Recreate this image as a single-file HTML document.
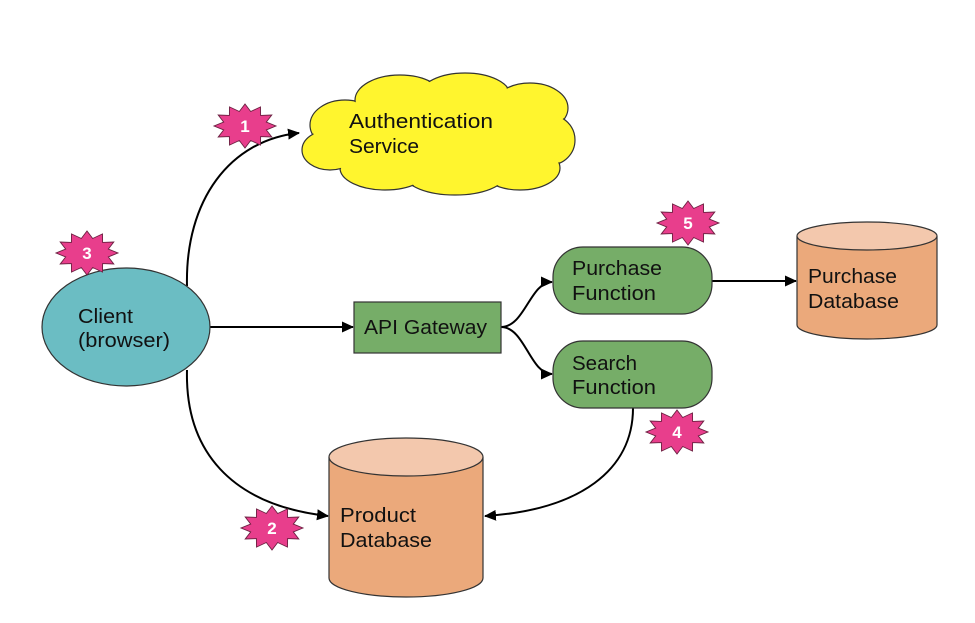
<!DOCTYPE html>
<html><head><meta charset="utf-8"><style>
html,body{margin:0;padding:0;background:#fff;}
svg{display:block;}
text{font-family:"Liberation Sans",sans-serif;}
</style></head><body>
<svg width="975" height="623" viewBox="0 0 975 623" xmlns="http://www.w3.org/2000/svg">
<defs>
<marker id="ar" markerWidth="12" markerHeight="12" refX="11" refY="6" orient="auto" markerUnits="userSpaceOnUse">
<path d="M0,0.5 L12,6 L0,11.5 z" fill="#000"/></marker>
<polygon id="star" points="31,0 21.3,3.9 26.8,11 15.6,10.6 15.5,19.1 5.7,14.5 0,22 -5.7,14.5 -15.5,19.1 -15.6,10.6 -26.8,11 -21.3,3.9 -31,0 -21.3,-3.9 -26.8,-11 -15.6,-10.6 -15.5,-19.1 -5.7,-14.5 0,-22 5.7,-14.5 15.5,-19.1 15.6,-10.6 26.8,-11 21.3,-3.9" fill="#e83e8c" stroke="#6a2040" stroke-width="0.9"/>
</defs>

<g fill="none" stroke="#000" stroke-width="2">
<path d="M187,286 C185,200 230,140 299,133" marker-end="url(#ar)"/>
<path d="M210,327 L353,327" marker-end="url(#ar)"/>
<path d="M187,370 C185,450 230,505 328,516" marker-end="url(#ar)"/>
<path d="M501,327 C525,327 530,282 552,282" marker-end="url(#ar)"/>
<path d="M501,327 C525,327 530,374 552,374" marker-end="url(#ar)"/>
<path d="M712,281 L796,281" marker-end="url(#ar)"/>
<path d="M633,408 C633,470 580,510 485,516" marker-end="url(#ar)"/>
</g>

<g stroke="#333" stroke-width="1.2" fill="#fff52e">
<ellipse cx="345" cy="125" rx="35" ry="25"/>
<ellipse cx="400" cy="100" rx="45" ry="25"/>
<ellipse cx="465" cy="95" rx="45" ry="22"/>
<ellipse cx="530" cy="108" rx="38" ry="25"/>
<ellipse cx="550" cy="140" rx="25" ry="25"/>
<ellipse cx="520" cy="168" rx="40" ry="22"/>
<ellipse cx="455" cy="175" rx="50" ry="20"/>
<ellipse cx="385" cy="168" rx="45" ry="22"/>
<ellipse cx="330" cy="150" rx="28" ry="20"/>
</g>
<g fill="#fff52e">
<ellipse cx="345" cy="125" rx="34" ry="24"/>
<ellipse cx="400" cy="100" rx="44" ry="24"/>
<ellipse cx="465" cy="95" rx="44" ry="21"/>
<ellipse cx="530" cy="108" rx="37" ry="24"/>
<ellipse cx="550" cy="140" rx="24" ry="24"/>
<ellipse cx="520" cy="168" rx="39" ry="21"/>
<ellipse cx="455" cy="175" rx="49" ry="19"/>
<ellipse cx="385" cy="168" rx="44" ry="21"/>
<ellipse cx="330" cy="150" rx="27" ry="19"/>
<ellipse cx="440" cy="138" rx="115" ry="40"/>
</g>
<g font-size="20" fill="#111">
<text x="349" y="128" textLength="144" lengthAdjust="spacingAndGlyphs">Authentication</text>
<text x="349" y="153" textLength="70" lengthAdjust="spacingAndGlyphs">Service</text>
</g>

<ellipse cx="126" cy="327" rx="84" ry="59" fill="#6bbdc3" stroke="#333" stroke-width="1.2"/>
<g font-size="20" fill="#111">
<text x="78" y="323" textLength="55" lengthAdjust="spacingAndGlyphs">Client</text>
<text x="78" y="347" textLength="92" lengthAdjust="spacingAndGlyphs">(browser)</text>
</g>

<rect x="354" y="302" width="147" height="51" fill="#76ad68" stroke="#333" stroke-width="1.2"/>
<text x="364" y="334" font-size="20" fill="#111" textLength="123" lengthAdjust="spacingAndGlyphs">API Gateway</text>

<rect x="553" y="247" width="159" height="67" rx="30" fill="#76ad68" stroke="#333" stroke-width="1.2"/>
<g font-size="20" fill="#111">
<text x="572" y="275" textLength="90" lengthAdjust="spacingAndGlyphs">Purchase</text>
<text x="572" y="300" textLength="84" lengthAdjust="spacingAndGlyphs">Function</text>
</g>
<rect x="553" y="341" width="159" height="67" rx="30" fill="#76ad68" stroke="#333" stroke-width="1.2"/>
<g font-size="20" fill="#111">
<text x="572" y="370" textLength="65" lengthAdjust="spacingAndGlyphs">Search</text>
<text x="572" y="394" textLength="84" lengthAdjust="spacingAndGlyphs">Function</text>
</g>

<path d="M797,236 L797,325 A70,14 0 0 0 937,325 L937,236" fill="#eba97b" stroke="#333" stroke-width="1.2"/>
<ellipse cx="867" cy="236" rx="70" ry="14" fill="#f3c8ad" stroke="#333" stroke-width="1.2"/>
<g font-size="20" fill="#111">
<text x="808" y="283" textLength="89" lengthAdjust="spacingAndGlyphs">Purchase</text>
<text x="808" y="308" textLength="91" lengthAdjust="spacingAndGlyphs">Database</text>
</g>

<path d="M329,457 L329,578 A77,19 0 0 0 483,578 L483,457" fill="#eba97b" stroke="#333" stroke-width="1.2"/>
<ellipse cx="406" cy="457" rx="77" ry="19" fill="#f3c8ad" stroke="#333" stroke-width="1.2"/>
<g font-size="20" fill="#111">
<text x="340" y="522" textLength="76" lengthAdjust="spacingAndGlyphs">Product</text>
<text x="340" y="547" textLength="92" lengthAdjust="spacingAndGlyphs">Database</text>
</g>

<g font-size="17" font-weight="bold" fill="#fff" text-anchor="middle">
<use href="#star" transform="translate(245,126)"/><text x="245" y="132">1</text>
<use href="#star" transform="translate(272,528)"/><text x="272" y="534">2</text>
<use href="#star" transform="translate(87,253)"/><text x="87" y="259">3</text>
<use href="#star" transform="translate(677,432)"/><text x="677" y="438">4</text>
<use href="#star" transform="translate(688,223)"/><text x="688" y="229">5</text>
</g>
</svg>
</body></html>
